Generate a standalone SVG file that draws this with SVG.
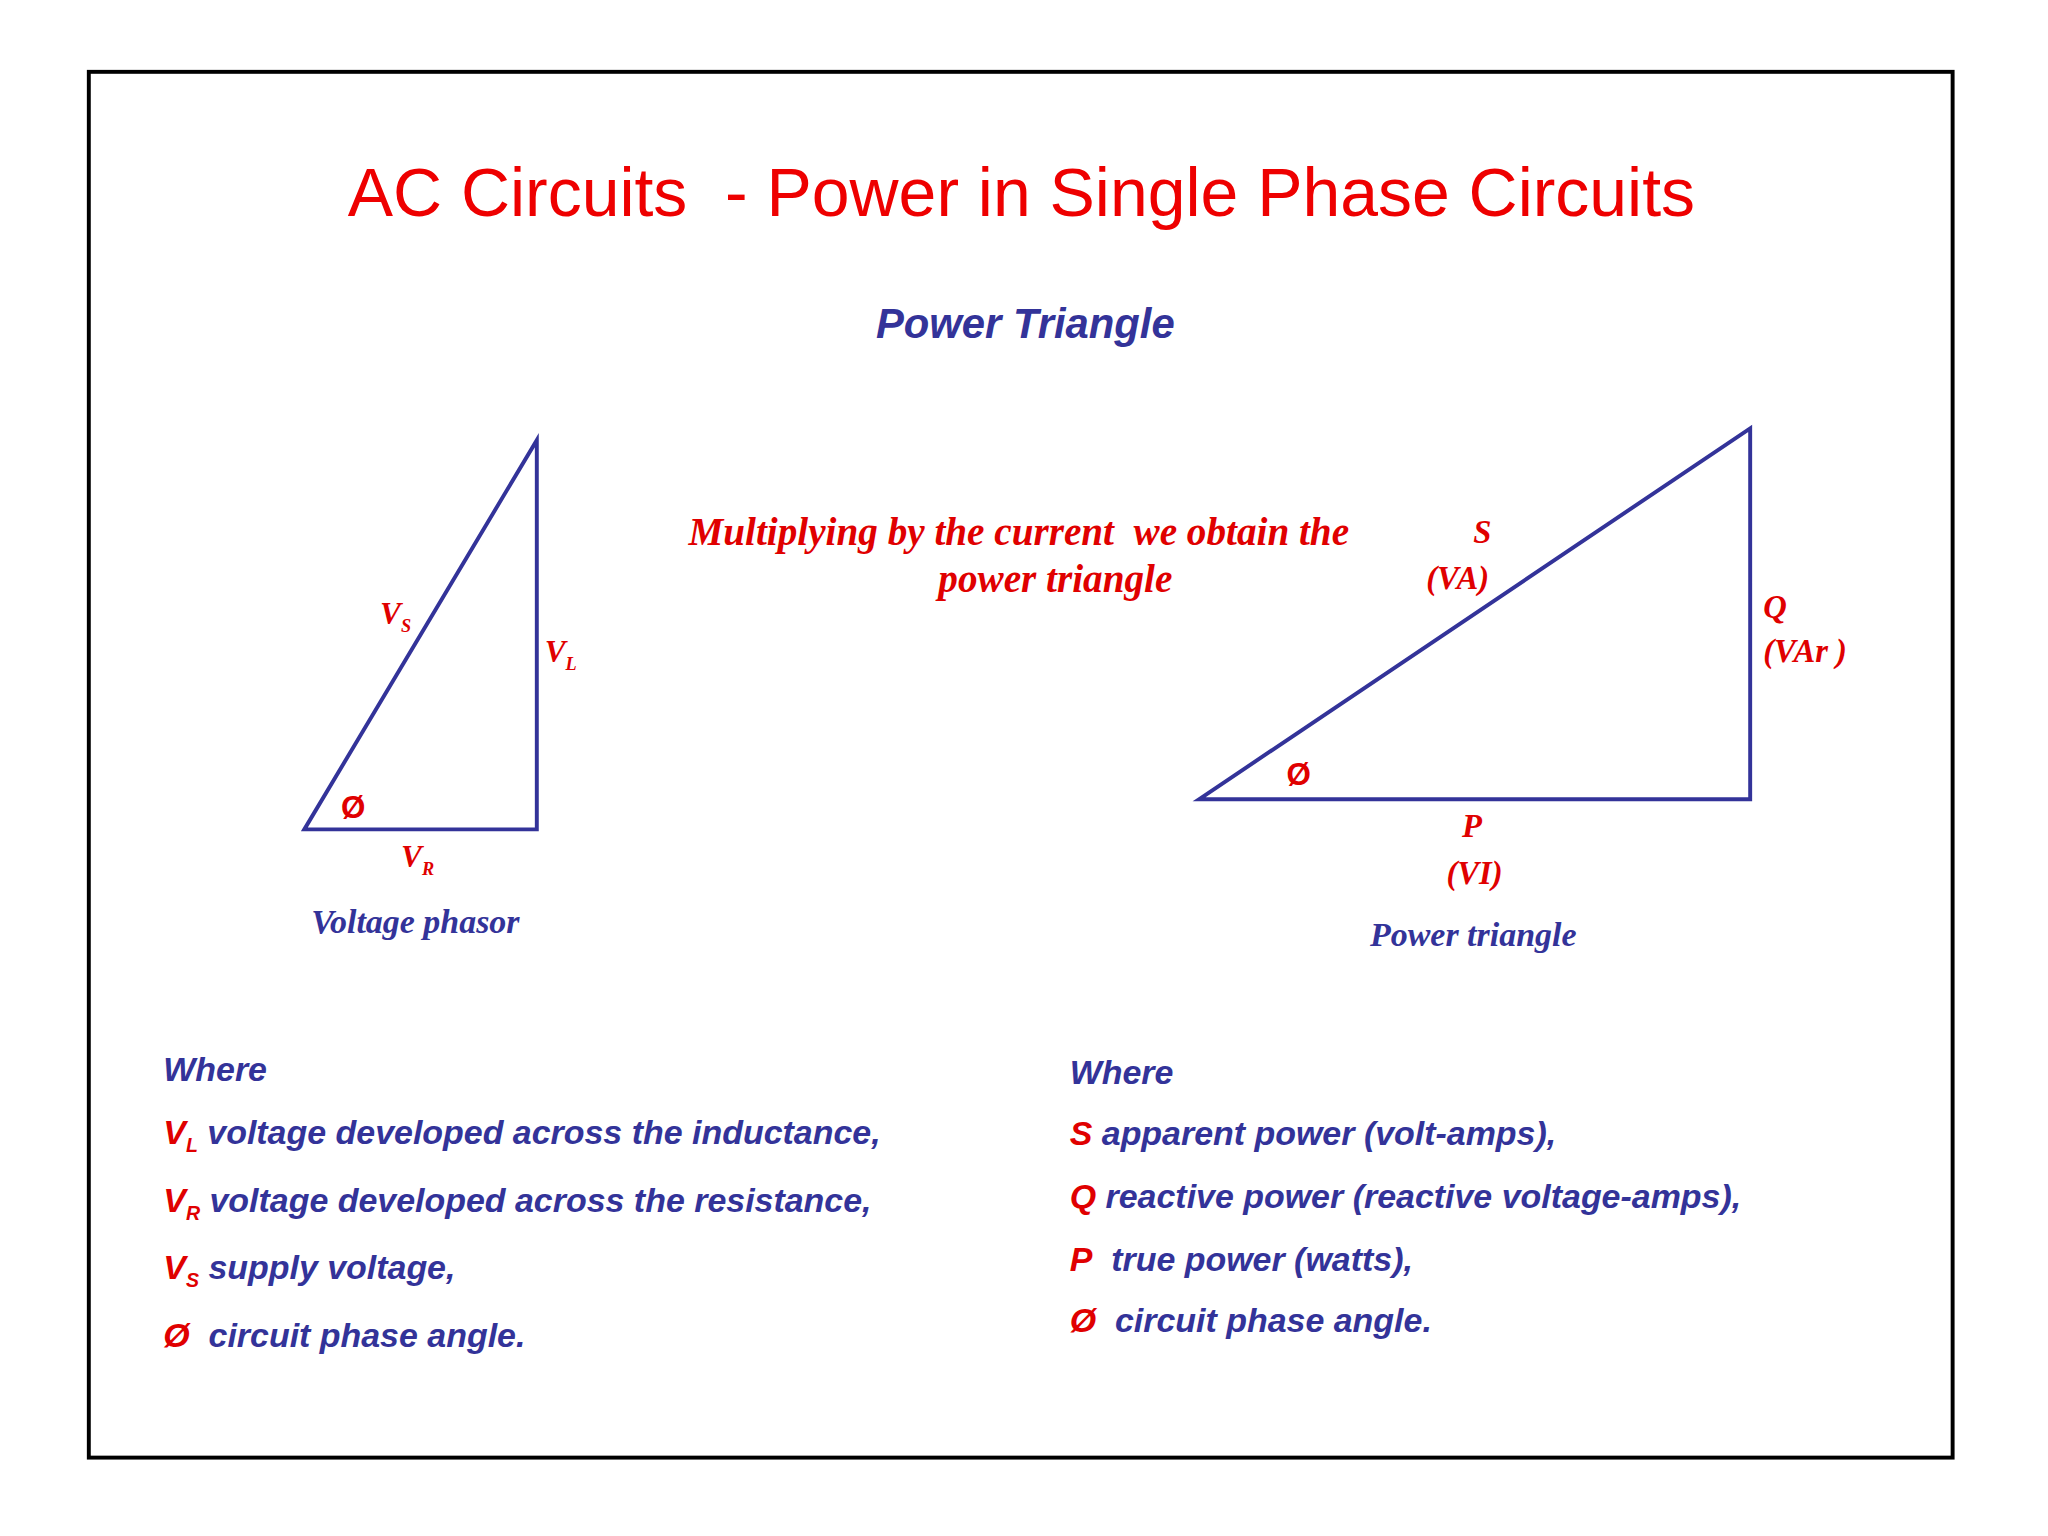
<svg xmlns="http://www.w3.org/2000/svg" width="2048" height="1536" viewBox="0 0 2048 1536">
<style>
text{white-space:pre}
.t{font-family:"Liberation Serif",serif;font-style:italic;font-weight:bold;fill:#e00000}
.tb{font-family:"Liberation Serif",serif;font-style:italic;font-weight:bold;fill:#333399}
.s{font-family:"Liberation Sans",sans-serif;font-style:italic;font-weight:bold;fill:#333399;font-size:26px}
.r{fill:#e00000}
.tri{fill:none;stroke:#333399;stroke-width:3}
</style>
<rect width="2048" height="1536" fill="#fff"/>
<g transform="scale(1.3061)">
<rect x="68" y="55" width="1427" height="1061" fill="none" stroke="#000" stroke-width="3"/>
<g id="title"><text x="782" y="165" text-anchor="middle" font-family="Liberation Sans,sans-serif" font-size="52" fill="#ee0000">AC Circuits  - Power in Single Phase Circuits</text>
<text x="785" y="259" text-anchor="middle" font-family="Liberation Sans,sans-serif" font-size="32" font-style="italic" font-weight="bold" fill="#333399">Power Triangle</text></g>
<g id="voltage-triangle">
<polygon class="tri" points="233,635 411,337 411,635"/>
<text class="t" x="291" y="478" font-size="24">V<tspan font-size="14" dy="6">S</tspan></text>
<text class="t" x="417" y="507" font-size="24">V<tspan font-size="14" dy="6">L</tspan></text>
<text class="t" x="307" y="664" font-size="24">V<tspan font-size="14" dy="6">R</tspan></text>
<text x="261" y="626" font-family="Liberation Sans,sans-serif" font-weight="bold" font-size="24" fill="#e00000">Ø</text>
<text class="tb" x="318" y="714" font-size="26" text-anchor="middle" font-weight="normal">Voltage phasor</text>
</g>
<g id="middle-text">
<text class="t" x="780" y="417" font-size="30" text-anchor="middle">Multiplying by the current  we obtain the</text>
<text class="t" x="808" y="453" font-size="30" text-anchor="middle">power triangle</text>
</g>
<g id="power-triangle">
<polygon class="tri" points="918,612 1340,328 1340,612"/>
<text class="t" x="1135" y="416" font-size="25" text-anchor="middle">S</text>
<text class="t" x="1116" y="451" font-size="25" text-anchor="middle">(VA)</text>
<text class="t" x="1350" y="473" font-size="25">Q</text>
<text class="t" x="1350" y="507" font-size="25">(VAr )</text>
<text class="t" x="1127" y="641" font-size="25" text-anchor="middle">P</text>
<text class="t" x="1129" y="677" font-size="25" text-anchor="middle">(VI)</text>
<text x="985" y="601" font-family="Liberation Sans,sans-serif" font-weight="bold" font-size="24" fill="#e00000">Ø</text>
<text class="tb" x="1128" y="724" font-size="26" text-anchor="middle" font-weight="normal">Power triangle</text>
</g>
<g id="legend-left">
<text class="s" x="125" y="828">Where</text>
<text class="s" x="125" y="876"><tspan class="r">V<tspan font-size="15" dy="6">L</tspan></tspan><tspan dy="-6"> voltage developed across the inductance,</tspan></text>
<text class="s" x="125" y="928"><tspan class="r">V<tspan font-size="15" dy="6">R</tspan></tspan><tspan dy="-6"> voltage developed across the resistance,</tspan></text>
<text class="s" x="125" y="979"><tspan class="r">V<tspan font-size="15" dy="6">S</tspan></tspan><tspan dy="-6"> supply voltage,</tspan></text>
<text class="s" x="125" y="1031"><tspan class="r">Ø</tspan>  circuit phase angle.</text>
</g>
<g id="legend-right">
<text class="s" x="819" y="830">Where</text>
<text class="s" x="819" y="877"><tspan class="r">S</tspan> apparent power (volt-amps),</text>
<text class="s" x="819" y="925"><tspan class="r">Q</tspan> reactive power (reactive voltage-amps),</text>
<text class="s" x="819" y="973"><tspan class="r">P</tspan>  true power (watts),</text>
<text class="s" x="819" y="1020"><tspan class="r">Ø</tspan>  circuit phase angle.</text>
</g>
</g>
</svg>
